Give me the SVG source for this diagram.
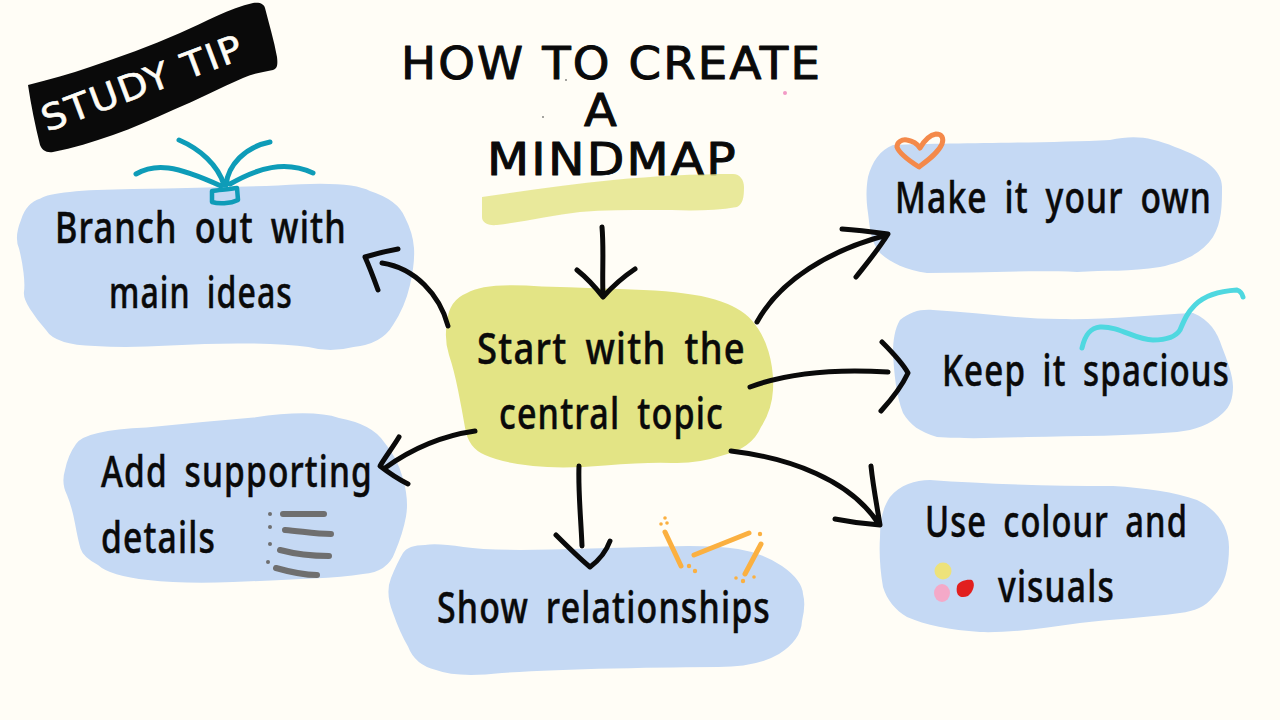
<svg xmlns="http://www.w3.org/2000/svg" width="1280" height="720" viewBox="0 0 1280 720">
<style>
.blob{fill:#c5d9f4}
.t{font-family:"Noto Sans","Liberation Sans",sans-serif;font-size:44px;fill:#0a0a0a;stroke:#0a0a0a;stroke-width:.5;font-weight:500;letter-spacing:1.500px;word-spacing:9px}
.h{font-family:"DejaVu Sans","Liberation Sans",sans-serif;font-size:44px;fill:#0a0a0a;stroke:#0a0a0a;stroke-width:1;stroke-linejoin:round;letter-spacing:2px}
.a{fill:none;stroke:#0a0a0a;stroke-width:5;stroke-linecap:round;stroke-linejoin:round}
.d{fill:none;stroke-linecap:round;stroke-linejoin:round}
</style>
<rect width="1280" height="720" fill="#fffdf6"/>
<g id="study-tip">
<path d="M28 85C50 79 70 74 90 67C120 57 150 46 180 33C205 22 230 8 253 3C260 2 264 4 265 8C269 24 274 40 277 57C278 65 277 69 273 70C262 72 252 74 243 78C220 88 197 100 173 110C153 119 133 128 113 135C93 142 73 148 53 152C46 153 42 150 40 145C35 125 31 105 28 85Z" fill="#0a0a0a"/>
<text x="47" y="132" transform="rotate(-20.5 47 132)" textLength="213" lengthAdjust="spacingAndGlyphs" font-family="DejaVu Sans,sans-serif" font-size="36" letter-spacing="1.500" fill="#fffdf6" stroke="#fffdf6" stroke-width=".6">STUDY TIP</text>
</g>
<g id="title">
<text class="h" x="401" y="79" textLength="421" lengthAdjust="spacingAndGlyphs">HOW TO CREATE</text>
<text class="h" x="584" y="126" textLength="35" lengthAdjust="spacingAndGlyphs">A</text>
<text class="h" x="487" y="175" textLength="251" lengthAdjust="spacingAndGlyphs">MINDMAP</text>
<path d="M482 197C525 191 570 184 613 180C655 176 695 174 733 174C740 174 744 180 744 187C744 197 743 204 737 207C710 212 680 210 653 210C628 210 604 210 580 212C552 215 524 222 497 225C487 226 482 222 482 217Z" fill="#e3e485" fill-opacity=".8"/>
<circle cx="785" cy="93" r="2" fill="#f29ac6"/>
<circle cx="566" cy="80" r=".8" fill="#333"/>
<circle cx="543" cy="117" r=".8" fill="#333"/>
</g>
<g id="branch-out">
<path class="blob" d="M133 189Q213 188 278 185.500Q350 180 370 191Q398 200 405 217.500Q413 233 414 248Q415 263 410 285Q405 307 393 325Q382 344 353.500 347Q330 353 308.500 347Q287 344 250 343.500Q213 343 170 345.500Q127 348 95 346Q55 345 46 330Q37 320 30 309Q23 298 24 291.500Q25 285 23.500 272.500Q22 260 19 248.500Q14 237 21 220Q26 203 40.500 198.500Q53 190 133 189Z"/>
<path class="d" d="M136 174C155 163 175 165 221 186M179 140C200 149 218 165 224 185M270 142C245 147 228 165 226 185M230 184C258 168 285 160 313 173" stroke="#0e9cb8" stroke-width="5"/>
<path class="d" d="M212 191C220 190 230 189 237 188L238 200C230 204 218 204 212 202Z" stroke="#0e9cb8" stroke-width="4.500"/>
<text class="t" x="55" y="243" textLength="292" lengthAdjust="spacingAndGlyphs">Branch out with</text>
<text class="t" x="109" y="308" textLength="184" lengthAdjust="spacingAndGlyphs">main ideas</text>
</g>
<g id="make-own">
<path class="blob" d="M893 145C950 143 1050 143 1110 140C1135 135 1150 137 1175 147C1205 158 1222 170 1222 187C1222 205 1222 222 1213 237C1203 252 1185 262 1160 267C1130 272 1105 270 1077 272C1030 270 975 273 927 273C905 270 890 262 880 253C870 240 870 228 868 213C866 200 866 188 868 177C872 162 880 150 893 145Z"/>
<path class="d" d="M919 167C908 160 899 153 897 147C897 142 902 139 907 140C913 141 918 145 920 148C924 141 930 135 936 134C942 134 944 138 942 144C938 153 928 160 919 167Z" stroke="#f4894a" stroke-width="5"/>
<text class="t" x="895" y="213" textLength="317" lengthAdjust="spacingAndGlyphs">Make it your own</text>
</g>
<g id="keep-spacious">
<path class="blob" d="M933 310C975 312 1015 319 1060 319C1105 320 1150 315 1193 313C1210 320 1217 332 1222 347C1227 360 1233 375 1233 387C1233 398 1230 407 1223 413C1210 425 1195 430 1177 432C1130 436 1080 436 1027 437C995 438 965 439 937 437C920 432 910 425 903 413C896 395 894 372 893 353C893 340 895 328 900 320C910 312 920 309 933 310Z"/>
<path class="d" d="M1082 348C1085 335 1090 328 1100 327C1120 326 1135 340 1153 340C1165 340 1175 338 1180 330C1185 318 1188 312 1195 305C1205 295 1220 291 1237 290C1240 291 1242 293 1243 297" stroke="#4fd8e0" stroke-width="5"/>
<text class="t" x="942" y="386" textLength="288" lengthAdjust="spacingAndGlyphs">Keep it spacious</text>
</g>
<g id="colour-visuals">
<path class="blob" d="M930 480C985 484 1050 486 1113 486C1145 488 1175 492 1197 500C1218 510 1229 528 1229 547C1229 568 1225 585 1213 597C1205 607 1195 611 1180 613C1145 618 1110 619 1080 623C1045 628 1010 633 980 632C950 630 925 625 907 617C895 610 887 600 883 587C880 570 879 552 880 537C880 520 883 507 890 497C900 485 915 480 930 480Z"/>
<circle cx="943" cy="571" r="8.500" fill="#ede27a"/>
<ellipse cx="942" cy="593" rx="8" ry="9" fill="#f4a9c8"/>
<path d="M957 586C958 582 966 579 972 580C976 584 973 592 968 596C961 599 955 596 957 586Z" fill="#e2201f"/>
<text class="t" x="925" y="537" textLength="263" lengthAdjust="spacingAndGlyphs">Use colour and</text>
<text class="t" x="998" y="602" textLength="117" lengthAdjust="spacingAndGlyphs">visuals</text>
</g>
<g id="supporting-details">
<path class="blob" d="M146.500 427.500Q200 422 253.500 417.500Q312 409 339 418Q372 424 384 442Q397 457 403 478.500Q409 500 406 516.500Q403 533 395 552Q388 572 363 574Q343 577 313 578.500Q283 580 233 582Q183 584 148 580Q110 576 98 565Q83 557 80.500 548.500Q78 540 75 523.500Q72 507 67 495Q61 483 65 470Q68 455 76 444Q85 430 146.500 427.500Z"/>
<path class="d" d="M283 514H324M285 530C300 531 315 534 331 534M280 550C295 554 312 556 329 556M276 568C290 572 303 575 317 575" stroke="#6f6f6f" stroke-width="6"/>
<g fill="#6f6f6f"><circle cx="270" cy="514" r="2"/><circle cx="270" cy="527" r="2"/><circle cx="270" cy="544" r="2"/><circle cx="268" cy="562" r="2"/></g>
<text class="t" x="101" y="487" textLength="272" lengthAdjust="spacingAndGlyphs">Add supporting</text>
<text class="t" x="101" y="553" textLength="115" lengthAdjust="spacingAndGlyphs">details</text>
</g>
<g id="show-relationships">
<path class="blob" d="M463.500 547Q490 551 551.500 549.500Q613 548 663 546.500Q713 545 738 549Q763 553 782 566Q802 580 803 594Q806 605 802 621Q801 640 779 654Q757 667 718.500 667Q680 667 613.500 668.500Q547 670 502 673Q457 678 436 670Q415 665 408 646.500Q400 633 393 613Q385 593 391 578Q397 563 403 553Q408 545 425 545Q437 543 463.500 547Z"/>
<path class="d" d="M665 532L681 566M694 555L749 533M761 544L745 574" stroke="#fbb040" stroke-width="5"/>
<g fill="#fbb040"><circle cx="665" cy="518" r="1.800"/><circle cx="661" cy="524" r="1.800"/><circle cx="667" cy="523" r="1.800"/><circle cx="689" cy="566" r="2.200"/><circle cx="695" cy="571" r="2.200"/><circle cx="760" cy="534" r="2.200"/><circle cx="736" cy="578" r="1.800"/><circle cx="743" cy="581" r="2.200"/><circle cx="754" cy="577" r="1.800"/></g>
<text class="t" x="437" y="623" textLength="334" lengthAdjust="spacingAndGlyphs">Show relationships</text>
</g>
<g id="central-topic">
<path d="M542 286.500Q597 288 643.500 290Q690 292 715 299.500Q740 307 751.500 320Q763 333 768.500 351.500Q774 370 773 390Q772 410 761 427Q752 448 724 455Q697 464 672 463Q647 462 605 465.500Q563 469 533 466Q503 463 485 455Q468 448 465 427.500Q462 410 458 390Q454 370 449 355Q444 340 447 322Q449 300 467 293Q485 282 542 286.500Z" fill="#e3e485"/>
<text class="t" x="477" y="364" textLength="269" lengthAdjust="spacingAndGlyphs">Start with the</text>
<text class="t" x="499" y="429" textLength="225" lengthAdjust="spacingAndGlyphs">central topic</text>
</g>
<g id="connectors">
<path class="a" d="M602 227C604 250 602 272 603 296M577 270C587 278 596 288 603 297C612 287 623 277 635 269"/>
<path class="a" d="M448 326C440 295 415 268 382 263M398 249C387 251 375 254 365 257C370 268 374 279 378 290"/>
<path class="a" d="M757 322C780 280 830 250 887 235M842 229C857 230 873 232 888 234C878 250 867 263 856 277"/>
<path class="a" d="M750 387C790 372 840 369 888 372M882 342C892 352 902 362 908 373C901 388 891 400 881 411"/>
<path class="a" d="M731 451C790 458 850 480 878 523M871 466C873 486 877 506 880 525C865 524 850 522 835 519"/>
<path class="a" d="M579 466C578 490 581 520 582 546M556 535C567 546 578 557 590 567C598 561 606 552 610 541"/>
<path class="a" d="M475 431C440 436 410 450 385 468M399 437C393 447 386 456 380 466C389 473 398 479 408 484"/>
</g>
</svg>
